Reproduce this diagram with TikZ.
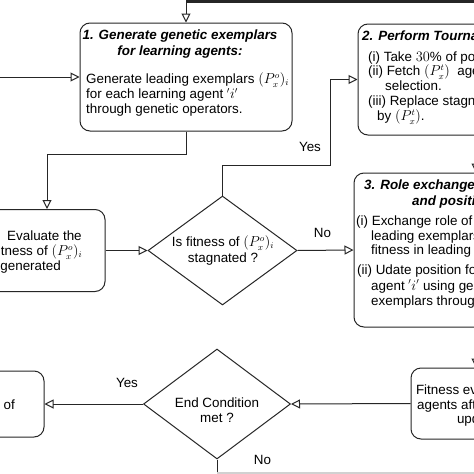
\documentclass[tikz,border=0pt]{standalone}
\usepackage{fontspec}
\setmainfont{Liberation Sans}
\usetikzlibrary{arrows.meta,shapes.geometric}
\tikzset{
  ln/.style={draw=black!85, line width=1pt},
  arr/.style={ln, -{Triangle[open,length=9pt,width=9pt]}},
  box/.style={ln, rectangle, rounded corners=10pt, inner sep=0pt},
  dia/.style={ln, diamond, inner sep=0pt},
  t/.style={inner sep=0pt, text=black, font=\fontsize{13.4}{15}\selectfont},
  tb/.style={t, font=\fontsize{13.4}{15}\selectfont\bfseries\itshape},
}
\begin{document}
\begin{tikzpicture}[x=1pt,y=-1pt]
\useasboundingbox (0,0) rectangle (474,474);
\fill[white] (0,0) rectangle (474,474);
\clip (0,0) rectangle (474,474);

% boxes
\node[box, minimum width=212pt, minimum height=108pt] (b1) at (186,77) {};
\node[box, minimum width=236pt, minimum height=111pt] (b2) at (476,79.5) {};
\node[box, minimum width=244pt, minimum height=154pt] (b3) at (476,250) {};
\node[box, minimum width=130pt, minimum height=71pt] (fb) at (476,403.5) {};
\node[box, minimum width=116pt, minimum height=82pt] (ev) at (47,250.5) {};
\node[box, minimum width=120pt, minimum height=66pt] (bl) at (-16,404) {};
\node[dia, minimum width=149pt, minimum height=109pt] (d1) at (222.5,250.5) {};
\node[dia, minimum width=147pt, minimum height=110pt] (d2) at (217,404) {};

% box 1 text
\node[tb, anchor=base] (t1a) at (180,39.5) {1. Generate genetic exemplars};
\node[tb, anchor=base] (t1b) at (180,55.5) {for learning agents:};
\node[t, anchor=base west] (t1c) at (86,83.5) {Generate leading exemplars $(P_x^o)_i$};
\node[t, anchor=base west] (t1d) at (86,98.5) {for each learning agent $'i'$};
\node[t, anchor=base west] (t1e) at (86,113) {through genetic operators.};

% box 2 text
\node[tb, anchor=base west] (t2a) at (362,40.5) {2. Perform Tournament selection:};
\node[t, anchor=base west] (t2b) at (368,61) {(i) Take $30\%$ of population};
\node[t, anchor=base west] (t2c) at (368,75.7) {(ii) Fetch $(P_x^t)$\ \ agent through};
\node[t, anchor=base west] (t2d) at (385,90.4) {selection.};
\node[t, anchor=base west] (t2e) at (368,105.1) {(iii) Replace stagnated agent};
\node[t, anchor=base west] (t2f) at (377,120.5) {by $(P_x^t)$.};

% box 3 text
\node[tb, anchor=base west] (t3a) at (364,189.5) {3. Role exchange of agents};
\node[tb, anchor=base west] (t3b) at (412,205.5) {and position update:};
\node[t, anchor=base west] (t3c) at (356,225.5) {(i) Exchange role of learning};
\node[t, anchor=base west] (t3d) at (371,240.5) {leading exemplars with};
\node[t, anchor=base west] (t3e) at (371,254.5) {fitness in leading role.};
\node[t, anchor=base west] (t3f) at (357,274.5) {(ii) Udate position for learning};
\node[t, anchor=base west] (t3g) at (371,290) {agent $'i'$ using genetic};
\node[t, anchor=base west] (t3h) at (371,305) {exemplars through};

% fitness box text
\node[t, anchor=base] (t4a) at (477.5,394.5) {Fitness evaluation of};
\node[t, anchor=base] (t4b) at (477.5,409) {agents after position};
\node[t, anchor=base] (t4c) at (477.5,423.5) {update};

% evaluate box text
\node[t, anchor=base west] (t5a) at (7,240.5) {Evaluate the};
\node[t, anchor=base west] (t5b) at (-6,255.5) {fitness of $(P_x^o)_i$};
\node[t, anchor=base east] (t5c) at (61,270.5) {generated};

% bottom-left box text
\node[t, anchor=base east] (t6a) at (15,409.5) {of};

% diamond texts
\node[t, anchor=base] (t7a) at (223,246.5) {Is fitness of $(P_x^o)_i$};
\node[t, anchor=base] (t7b) at (223,262.5) {stagnated ?};
\node[t, anchor=base] (t8a) at (217,407.5) {End Condition};
\node[t, anchor=base] (t8b) at (217,422.5) {met ?};

% connectors
\coordinate (topc) at (186,1.3);
\coordinate (topr) at (480,1.3);
\coordinate (lin) at (-5,77);
\coordinate (c1) at (330,165);
\coordinate (bot) at (217,473);
\coordinate (botr) at (480,473);
\coordinate (blo) at (217,480);

\draw[draw=black!85, line width=2.6pt] (topr) -- (topc);
\draw[arr] (topc) -- (b1.north);
\draw[arr] (lin) -- (b1.west);
\draw[arr] (b1.south) -- ++(0,23) -| (ev.north);
\draw[arr] (ev.east) -- (d1.west);
\draw[arr] (d1.north) |- (c1) |- (b2.west);
\draw[arr] (d1.east) -- (b3.west);
\draw[arr] (b2.south) -- (b3.north);
\draw[arr] (b3.south) -- (fb.north);
\draw[arr] (fb.west) -- (d2.east);
\draw[arr] (d2.west) -- (bl.east);
\draw[ln] (d2.south) -- (blo);
\draw[draw=black!18, line width=2pt] (bot) -- (botr);

% edge labels
\node[t, anchor=base] (lyes1) at (310,151) {Yes};
\node[t, anchor=base] (lno1) at (322.5,237.5) {No};
\node[t, anchor=base] (lyes2) at (127,387) {Yes};
\node[t, anchor=base] (lno2) at (262.5,464.5) {No};
\end{tikzpicture}
\end{document}
